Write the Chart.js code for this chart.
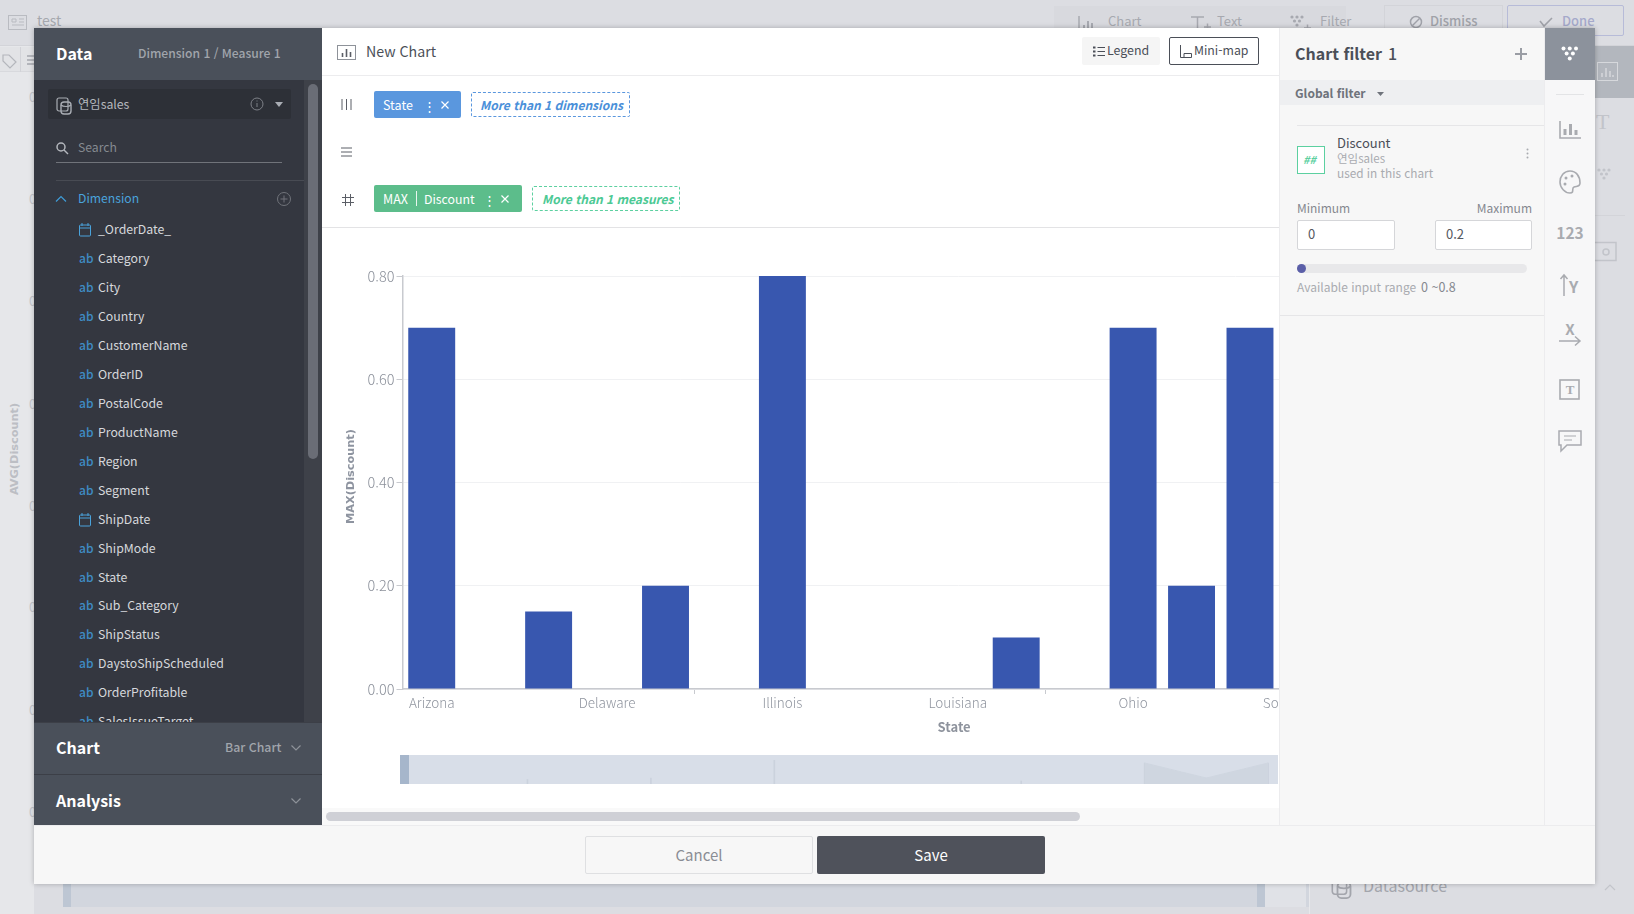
<!DOCTYPE html>
<html lang="ko">
<head>
<meta charset="utf-8">
<title>New Chart</title>
<script src="https://cdn.jsdelivr.net/npm/chart.js@4"></script>
<style>
  html, body { margin: 0; width: 1634px; height: 914px; overflow: hidden; background: #dcdde2; }
  body { position: relative; font-family: "Noto Sans CJK KR", "Noto Sans", sans-serif; color: #4b4f58; }
  .box { position: absolute; box-sizing: border-box; }
  .t { position: absolute; white-space: nowrap; line-height: 1; transform: translateY(-50%); }
  svg { position: absolute; overflow: visible; fill: none; }
  canvas { display: block; }
</style>
</head>
<body>
<div id="tela"></div>
<script>
// categorias e valores (só o trecho até Pennsylvania aparece)
const ESTADOS = ['Arizona', 'California', 'Colorado', 'Delaware', 'Florida', 'Georgia', 'Illinois', 'Indiana', 'Kentucky', 'Louisiana',
  'Michigan', 'New York', 'Ohio', 'Oregon', 'Pennsylvania', 'South Carolina', 'Tennessee', 'Texas', 'Utah'];
const MAX_DISCOUNT = [0.7, null, 0.15, null, 0.2, null, 0.8, null, null, null, 0.1, null, 0.7, 0.2, 0.7, null, null, null, null];
const TICKS_Y = [0, 0.2, 0.4, 0.6, 0.8];

const CAMPOS = ['_OrderDate_', 'Category', 'City', 'Country', 'CustomerName', 'OrderID', 'PostalCode', 'ProductName', 'Region', 'Segment',
  'ShipDate', 'ShipMode', 'State', 'Sub_Category', 'ShipStatus', 'DaystoShipScheduled', 'OrderProfitable', 'SalesIssueTarget'];
const CAMPOS_DATA = ['_OrderDate_', 'ShipDate'];
const FUNDO_ZEROS = [97, 199, 301, 404, 506, 607, 710, 812];

const tela = document.getElementById('tela');

function caixa(x, y, w, h, estilo = '', pai = tela) {
  const el = document.createElement('div');
  el.className = 'box';
  el.style.cssText = `left:${x}px;top:${y}px;width:${w}px;height:${h}px;${estilo}`;
  pai.appendChild(el);
  return el;
}

// a fonte CJK fica 1px abaixo do centro, por isso o y - 1
function texto(x, y, s, estilo = '', pai = tela) {
  const el = document.createElement('span');
  el.className = 't';
  el.style.cssText = `left:${x}px;top:${y - 1}px;${estilo}`;
  el.textContent = s;
  pai.appendChild(el);
  return el;
}

function icone(x, y, w, h, corpo, estilo = '', pai = tela) {
  const d = document.createElement('div');
  d.innerHTML = `<svg style="left:${x}px;top:${y}px;${estilo}" width="${w}" height="${h}" viewBox="0 0 ${w} ${h}">${corpo}</svg>`;
  pai.appendChild(d.firstChild);
}

// ícones usados mais de uma vez
const svgBarras = (c) => `<path d="M1 1v17h18" stroke="${c}" stroke-width="1.5"/><path d="M6 15v-5M10 15V6M14 15v-7" stroke="${c}" stroke-width="2"/>`;
const svgFiltro = (c, k = 1) => [[2, 2], [7, 2], [12, 2], [4.5, 6], [9.5, 6], [7, 10]].map(([a, b]) => `<circle cx="${a * k}" cy="${b * k}" r="${1.6 * k}" fill="${c}"/>`).join('');
const svgBanco = (c, k = 1) => `<g transform="scale(${k})"><rect x="1" y="1" width="11" height="13" rx="2" stroke="${c}" stroke-width="1.2"/><rect x="5" y="5" width="10" height="12" rx="3" fill="none" stroke="${c}" stroke-width="1.4"/><path d="M5 8c2 2 8 2 10 0" stroke="${c}" stroke-width="1.2"/></g>`;

// ---------- tela de fundo (escurecida atrás do modal)
caixa(0, 0, 1634, 46, 'background:#dcdde2;border-bottom:1px solid #d3d4d9');
caixa(0, 46, 34, 868, 'background:#e6e7ea');
icone(8, 15, 20, 16, `<rect x=".5" y=".5" width="18" height="14" stroke="#b9bbc1"/><path d="M4 4h4v3H4zM11 4h5M11 7h5M4 10h12" stroke="#b9bbc1"/>`);
texto(37, 21, 'test', 'font-size:14px;color:#a5a8ae');
caixa(0, 47, 34, 25, 'border-bottom:1px solid #d8d9dd;background:#e2e3e6');
icone(2, 54, 16, 16, `<path d="M1 1h6l7 7-6 6-7-7z" stroke="#b4b6bc" stroke-width="1.2"/>`);
caixa(20, 47, 1, 25, 'background:#d2d3d8');
icone(26, 55, 8, 12, `<path d="M1 1h7M1 5h7M1 9h7" stroke="#b4b6bc" stroke-width="2"/>`);
FUNDO_ZEROS.forEach((y) => texto(29, y, '0', 'font-size:13px;color:#c3c5ca'));
texto(14, 450, 'AVG(Discount)', 'font:bold 11.3px "DejaVu Sans";color:#bcbec4;transform:translate(-50%,-50%) rotate(-90deg)');

caixa(1054, 6, 292, 40, 'background:#d8d9de');
icone(1078, 15, 20, 20, svgBarras('#a7a9b0'));
texto(1108, 21, 'Chart', 'font-size:13px;color:#a7a9b0');
icone(1190, 15, 22, 20, `<path d="M1 2h13M7.5 2v16M14 12h7M17.5 8.5v7" stroke="#a7a9b0" stroke-width="1.5"/>`);
texto(1217, 21, 'Text', 'font-size:13px;color:#a7a9b0');
icone(1290, 15, 22, 20, svgFiltro('#a7a9b0') + `<path d="M14 13h7M17.5 9.5v7" stroke="#a7a9b0" stroke-width="1.5"/>`);
texto(1320, 21, 'Filter', 'font-size:13px;color:#a7a9b0');
caixa(1384, 5, 119, 41, 'border:1px solid #d3d4d9;border-bottom:0');
icone(1409, 15, 14, 14, `<circle cx="7" cy="7" r="5.5" stroke="#a0a2a9" stroke-width="1.5"/><path d="M3.5 10.5l7-7" stroke="#a0a2a9" stroke-width="1.5"/>`);
texto(1430, 21, 'Dismiss', 'font-size:13px;font-weight:500;color:#a0a2a9');
caixa(1507, 5, 117, 31, 'border:1px solid #b7bbd8;border-radius:2px');
icone(1539, 17, 14, 10, `<path d="M1 4l4 5 8-8" stroke="#a0a2a9" stroke-width="1.6"/>`);
texto(1562, 21, 'Done', 'font-size:13px;font-weight:500;color:#a5a9cb');

caixa(1595, 46, 39, 52, 'background:#b3b7be');
icone(1597, 62, 21, 19, `<rect x=".5" y=".5" width="20" height="18" stroke="#d6d8dc"/><path d="M5 15v-4M9 15V6M13 15V9M16 15v-2" stroke="#d6d8dc" stroke-width="1.5"/>`);
texto(1596, 123, 'T', 'font:22px "Liberation Serif";color:#c2c4ca');
icone(1597, 168, 14, 14, svgFiltro('#c2c4ca'));
caixa(1595, 215, 30, 1, 'background:#d3d4d9');
icone(1595, 242, 23, 19, `<rect x="-3" y=".5" width="24" height="18" stroke="#c2c4ca" stroke-width="1.5"/><circle cx="11" cy="10" r="3" stroke="#c2c4ca" stroke-width="1.5"/>`);

// mini-mapa e painel Datasource do fundo
caixa(63, 884, 1246, 23, 'background:#d2d6de');
caixa(63, 884, 8, 23, 'background:#bdc6d3');
caixa(1257, 884, 8, 23, 'background:#bdc6d3');
caixa(1265, 884, 41, 23, 'background:#e0e2e7');
caixa(1309, 884, 325, 30, 'background:#dcdde2;border-left:1px solid #e7e8eb');
icone(1331, 876, 22, 22, svgBanco('#a3a5ac', 1.3));
texto(1363, 886, 'Datasource', 'font-size:16px;color:#a3a5ac');
icone(1604, 884, 12, 7, `<path d="M1 6l5-5 5 5" stroke="#c3c5cb" stroke-width="1.2"/>`);

// ---------- modal
caixa(34, 28, 1561, 856, 'background:#f7f7f7;box-shadow:0 0 5px rgba(0,0,0,.25)');

// painel esquerdo
caixa(34, 28, 288, 52, 'background:#4a505a');
texto(56, 54, 'Data', 'font-size:16px;font-weight:700;color:#fff');
texto(138, 54, 'Dimension 1 / Measure 1', 'font-size:12.1px;font-weight:500;color:#a1a5ac');
caixa(34, 80, 288, 642, 'background:#343740;overflow:hidden');
caixa(304, 80, 18, 642, 'background:#3e4149');
caixa(308, 84, 10, 375, 'background:#6a6d76;border-radius:5px');
caixa(48, 89, 243, 30, 'background:#2d3037;border-radius:2px');
icone(56, 97, 16, 18, svgBanco('#a9adb4'));
texto(78, 105, '연임sales', 'font-size:12.3px;color:#b4b7bd');
icone(250, 97, 14, 14, `<circle cx="7" cy="7" r="6" stroke="#7d8087"/><path d="M7 6v4M7 3.5v1" stroke="#7d8087"/>`);
icone(275, 102, 8, 5, `<path d="M0 0h8L4 5z" fill="#a9adb4"/>`);
icone(56, 142, 12, 12, `<circle cx="5" cy="5" r="4" stroke="#b4b7bd" stroke-width="1.5"/><path d="M8 8l4 4" stroke="#b4b7bd" stroke-width="1.5"/>`);
texto(78, 148, 'Search', 'font-size:12.2px;color:#868a91');
caixa(56, 162, 226, 1, 'background:#70737a');
caixa(56, 180, 248, 1, 'background:#484b53');
icone(56, 196, 10, 6, `<path d="M0 5.5l5-5 5 5" stroke="#3f9bd6" stroke-width="1.2"/>`);
texto(78, 199, 'Dimension', 'font-size:12.2px;color:#4aa3dc');
icone(277, 192, 14, 14, `<circle cx="7" cy="7" r="6.5" stroke="#70737a"/><path d="M7 3.5v7M3.5 7h7" stroke="#70737a"/>`);

const lista = caixa(34, 80, 270, 642, 'overflow:hidden');
CAMPOS.forEach((nome, i) => {
  const y = 230 + i * 28.96 - 80;
  if (CAMPOS_DATA.includes(nome)) {
    icone(45, y - 7, 13, 14, `<rect x=".5" y="2" width="11" height="11" rx="1" stroke="#4aa3dc"/><path d="M.5 5h11M3 0v3M9 0v3" stroke="#4aa3dc"/>`, '', lista);
  } else {
    texto(45, y, 'ab', 'font-size:12px;font-weight:500;color:#3f8cc4', lista);
  }
  texto(64, y, nome, 'font-size:12.3px;color:#d6d8dc', lista);
});

caixa(34, 722, 288, 52, 'background:#4a505a;border-top:1px solid #3c3f47');
texto(56, 748, 'Chart', 'font-size:16px;font-weight:700;color:#fff');
texto(225, 748, 'Bar Chart', 'font-size:12.3px;font-weight:500;color:#a1a5ac');
icone(291, 745, 10, 6, `<path d="M.5.5l4.5 4.5 4.5-4.5" stroke="#8e9299" stroke-width="1.2"/>`);
caixa(34, 774, 288, 51, 'background:#4a505a;border-top:1px solid #3c3f47');
texto(56, 801, 'Analysis', 'font-size:16px;font-weight:700;color:#fff');
icone(291, 798, 10, 6, `<path d="M.5.5l4.5 4.5 4.5-4.5" stroke="#8e9299" stroke-width="1.2"/>`);

// centro: cabeçalho e prateleiras
caixa(322, 28, 957, 780, 'background:#fff');
caixa(322, 75, 957, 1, 'background:#ececee');
icone(337, 45, 20, 15, `<rect x=".5" y=".5" width="18" height="14" stroke="#8e9299"/><path d="M5.5 12V8M9.5 12V4M13.5 12V7" stroke="#5b5e66" stroke-width="1.6"/>`);
texto(366, 52, 'New Chart', 'font-size:14.2px;color:#4b4f58');
caixa(1082, 37, 78, 28, 'background:#f5f5f5;border-radius:2px');
icone(1093, 46, 12, 11, `<path d="M0 1.5h2.5M0 5.5h2.5M0 9.5h2.5" stroke="#4b4f58" stroke-width="2"/><path d="M4.5 1.5H12M4.5 5.5H12M4.5 9.5H12" stroke="#4b4f58"/>`);
texto(1107, 51, 'Legend', 'font-size:12.4px;color:#4b4f58');
caixa(1169, 37, 90, 28, 'border:1px solid #4b4f58;border-radius:2px;background:#fff');
icone(1179, 45, 13, 13, `<path d="M1.5 0v12.5M5 12.5V8.500H12.500V12.500H1.500" stroke="#4b4f58"/>`);
texto(1194, 51, 'Mini-map', 'font-size:12.3px;color:#4b4f58');

icone(341, 99, 11, 12, `<path d="M1 0v11M5.500 0v11M10 0v11" stroke="#5b5e66"/>`);
icone(341, 147, 11, 10, `<path d="M0 1h11M0 5h11M0 9h11" stroke="#5b5e66"/>`);
icone(342, 194, 12, 12, `<path d="M3.500 0v12M8.500 0v12M0 3.500h12M0 8.500h12" stroke="#5b5e66"/>`);

caixa(374, 91, 87, 27, 'background:#5a97de;border-radius:2px');
texto(383, 106, 'State', 'font-size:12.5px;color:#fff');
texto(422.5, 106, '⋮', 'font-size:13px;color:#fff');
icone(441, 101, 8, 8, `<path d="M.5.5l7 7M7.500.5l-7 7" stroke="#fff" stroke-width="1.2"/>`);
caixa(471, 92, 159, 25, 'border:1px dashed #5a97de;border-radius:2px');
texto(480, 106, 'More than 1 dimensions', 'font-size:12px;font-weight:700;font-style:italic;color:#4a90d9');

caixa(374, 185, 148, 27, 'background:#5cbd8b;border-radius:2px');
texto(383, 200, 'MAX', 'font-size:12.5px;color:#fff');
caixa(416, 191, 1, 15, 'background:#e8f5ee');
texto(424, 200, 'Discount', 'font-size:12.3px;color:#fff');
texto(483, 200, '⋮', 'font-size:13px;color:#fff');
icone(501, 195, 8, 8, `<path d="M.5.5l7 7M7.500.5l-7 7" stroke="#fff" stroke-width="1.2"/>`);
caixa(532, 186, 148, 25, 'border:1px dashed #5cd0a0;border-radius:2px');
texto(542, 200, 'More than 1 measures', 'font-size:12px;font-weight:700;font-style:italic;color:#4cc994');
caixa(322, 227, 957, 1, 'background:#e3e3e5');

// área do gráfico (maior que a parte visível, corta na direita como no original)
const areaGrafico = caixa(322, 228, 957, 580, 'overflow:hidden');
areaGrafico.innerHTML = '<canvas id="grafico-barras" width="1191" height="580"></canvas>';
const areaMapa = caixa(400, 755, 878, 29, 'overflow:hidden;background:#d8dee8');
areaMapa.innerHTML = '<canvas id="grafico-mapa" width="1111" height="29" style="position:absolute;left:4px;top:0"></canvas>';
caixa(400, 755, 9, 29, 'background:#a6b6cb');

caixa(322, 808, 957, 17, 'background:#f9f9f9');
caixa(326, 812, 754, 9, 'background:#cfd0d6;border-radius:5px');
caixa(1279, 28, 1, 797, 'background:#ececee');
caixa(34, 825, 1561, 1, 'background:#ececee');
caixa(585, 836, 228, 38, 'border:1px solid #dfe0e2;border-radius:2px;background:#f7f7f7');
texto(699, 854.5, 'Cancel', 'font-size:15px;color:#8a8d94;transform:translate(-50%,-50%)');
caixa(817, 836, 228, 38, 'background:#4f525b;border-radius:2px');
texto(931, 854.5, 'Save', 'font-size:15px;color:#fff;transform:translate(-50%,-50%)');

// painel do filtro
texto(1295, 54, 'Chart filter', 'font-size:16px;font-weight:700;color:#4b4f58');
texto(1388, 54, '1', 'font-size:16px;font-weight:500;color:#4b4f58');
icone(1515, 48, 12, 12, `<path d="M6 0v12M0 6h12" stroke="#9a9da4" stroke-width="2"/>`);
caixa(1280, 80, 264, 25, 'background:#eeeff1');
texto(1295, 94, 'Global filter', 'font-size:12px;font-weight:700;color:#6f737b');
icone(1377, 92, 7, 4, `<path d="M0 0h7L3.500 4z" fill="#6f737b"/>`);
caixa(1297, 125, 247, 1, 'background:#e6e6e8');
caixa(1297, 146, 28, 28, 'border:1px solid #5cd0a0;background:#fff');
texto(1303, 160, '##', 'font-size:11px;font-weight:700;font-style:italic;color:#5cd0a0');
texto(1337, 143, 'Discount', 'font-size:13px;color:#4b4f58');
texto(1337, 160, '연임sales', 'font-size:11.500px;color:#a9abb0');
texto(1337, 174, 'used in this chart', 'font-size:11.8px;color:#a9abb0');
icone(1526, 148, 3, 11, `<circle cx="1.500" cy="1.500" r="1" fill="#a9abb0"/><circle cx="1.500" cy="5.500" r="1" fill="#a9abb0"/><circle cx="1.500" cy="9.500" r="1" fill="#a9abb0"/>`);
texto(1297, 209, 'Minimum', 'font-size:12px;color:#85888f');
const rotuloMax = texto(0, 209, 'Maximum', 'font-size:12px;color:#85888f');
rotuloMax.style.left = 'auto';
rotuloMax.style.right = (1634 - 1532) + 'px';
caixa(1297, 220, 98, 30, 'background:#fff;border:1px solid #d5d6d9;border-radius:2px');
texto(1308, 234, '0', 'font-size:13px;color:#55585f');
caixa(1435, 220, 97, 30, 'background:#fff;border:1px solid #d5d6d9;border-radius:2px');
texto(1446, 234, '0.2', 'font-size:13px;color:#55585f');
caixa(1297, 264, 230, 9, 'background:#e8e8ea;border-radius:5px');
caixa(1297, 264, 9, 9, 'background:#5b5fa8;border-radius:50%');
texto(1297, 288, 'Available input range', 'font-size:12px;color:#a9abb0');
texto(1421, 288, '0 ~0.8', 'font-size:12.5px;color:#85888f');
caixa(1280, 315, 264, 1, 'background:#e6e6e8');

// barra de ícones da direita
caixa(1544, 28, 51, 797, 'background:#f7f7f8;border-left:1px solid #ececee');
caixa(1545, 28, 50, 52, 'background:#8c929c');
icone(1561, 46, 18, 14, svgFiltro('#fff', 1.25));
caixa(1556, 94, 28, 1, 'background:#e3e4e6');
icone(1559, 120, 22, 20, `<path d="M1 1v17h21" stroke="#a9abb0" stroke-width="1.6"/><path d="M6 15V9M11.500 15V4M17 15V10" stroke="#a9abb0" stroke-width="3"/>`);
icone(1559, 170, 22, 24, `<path d="M11 1C5 1 1 6 1 12s5 11 10 11c5 0 1-5 4-6 3-1 6 0 6-4C21 6 17 1 11 1z" stroke="#a9abb0" stroke-width="1.600"/><circle cx="7" cy="8" r="1.500" fill="#a9abb0"/><circle cx="13" cy="6" r="1.500" fill="#a9abb0"/><circle cx="6" cy="14" r="1.500" fill="#a9abb0"/>`);
texto(1570, 234, '123', 'font-size:15.500px;font-weight:700;color:#a9abb0;transform:translate(-50%,-50%)');
icone(1560, 274, 8, 22, `<path d="M4 22V1M.5 5L4 1l3.500 4" stroke="#a9abb0" stroke-width="1.500"/>`);
texto(1569, 287, 'Y', 'font-size:16px;font-weight:700;color:#a9abb0');
texto(1570, 329, 'X', 'font-size:15px;font-weight:700;color:#a9abb0;transform:translate(-50%,-50%)');
icone(1559, 336, 22, 10, `<path d="M0 5h21M16 .5L21 5l-5 4.500" stroke="#a9abb0" stroke-width="1.500"/>`);
icone(1559, 379, 21, 21, `<rect x="1" y="1" width="19" height="19" stroke="#a9abb0" stroke-width="1.600"/>`);
texto(1570, 391, 'T', 'font:bold 13px "Liberation Serif";color:#a9abb0;transform:translate(-50%,-50%)');
icone(1558, 430, 24, 22, `<path d="M1 1h22v14H9l-6 6v-6H1z" stroke="#a9abb0" stroke-width="1.500"/><path d="M6 6h12M6 10h8" stroke="#a9abb0"/>`);

// ---------- gráficos
const FONTE = '"Noto Sans CJK KR", "Noto Sans", sans-serif';

new Chart(document.getElementById('grafico-barras'), {
  type: 'bar',
  data: {
    labels: ESTADOS,
    datasets: [{ label: 'MAX(Discount)', data: MAX_DISCOUNT, backgroundColor: '#3857af', categoryPercentage: 1, barPercentage: 0.803 }]
  },
  options: {
    responsive: false,
    animation: false,
    layout: { padding: { left: 22, top: 48, bottom: 73, right: 0 } },
    plugins: { legend: { display: false }, tooltip: { enabled: false } },
    scales: {
      x: {
        afterFit: (eixo) => { eixo.height = 46; },
        border: { color: '#c8cacf', width: 1.5 },
        grid: { drawOnChartArea: false, tickLength: 5, tickColor: '#c8cacf' },
        ticks: { autoSkip: true, maxTicksLimit: 7, maxRotation: 0, padding: 1, color: '#90959f', font: { family: FONTE, size: 13.500, weight: 300 } },
        // o original centraliza os títulos um pouco antes do meio do eixo
        title: { display: true, text: 'State\u00a0\u00a0', padding: 0, color: '#8e939d', font: { family: FONTE, size: 13, weight: 700 } }
      },
      y: {
        min: 0,
        max: 0.8,
        afterFit: (eixo) => { eixo.width = 58.5; },
        afterBuildTicks: (eixo) => { eixo.ticks = TICKS_Y.map((value) => ({ value })); },
        border: { color: '#c8cacf', width: 1.5 },
        grid: { color: '#f0f1f3', tickLength: 6, tickColor: '#c8cacf' },
        ticks: { padding: 2, color: '#8c919b', font: { family: FONTE, size: 14.500, weight: 300 }, callback: (v) => v.toFixed(2) },
        title: { display: true, text: '\u00a0\u00a0\u00a0MAX(Discount)', padding: 0, color: '#8e94a0', font: { family: '"DejaVu Sans"', size: 11.300, weight: 700 } }
      }
    }
  }
});

// mini-mapa: mesma série, sem eixos
new Chart(document.getElementById('grafico-mapa'), {
  data: {
    labels: ESTADOS,
    datasets: [
      { type: 'line', data: MAX_DISCOUNT, fill: 'origin', backgroundColor: '#cfd6e0', borderColor: '#cfd6e0', borderWidth: 1, pointRadius: 0, tension: 0 },
      { type: 'bar', data: MAX_DISCOUNT, backgroundColor: '#cbd2dd', barThickness: 1 }
    ]
  },
  options: {
    responsive: false,
    animation: false,
    layout: { padding: { top: 5 } },
    plugins: { legend: { display: false }, tooltip: { enabled: false } },
    scales: {
      x: { display: false, offset: false },
      y: { display: false, min: 0, max: 0.8 }
    }
  }
});
</script>
</body>
</html>
